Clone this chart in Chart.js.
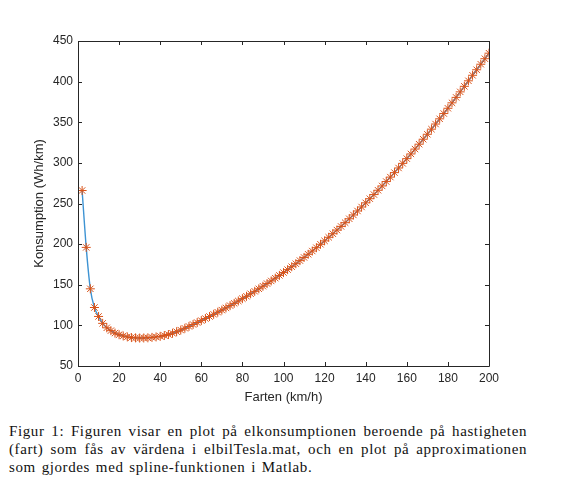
<!DOCTYPE html>
<html>
<head>
<meta charset="utf-8">
<script src="https://cdn.jsdelivr.net/npm/chart.js@4/dist/chart.umd.min.js"></script>
<style>
  html, body { margin: 0; padding: 0; background: #fff; }
  body { width: 585px; height: 504px; position: relative; overflow: hidden; }
  #wrap { position: absolute; left: 0; top: 0; width: 585px; height: 410px; }
  #caption {
    position: absolute; left: 9px; top: 422px; width: 518px;
    font-family: "Liberation Serif", serif; font-size: 15px; line-height: 18px;
    letter-spacing: 0.6px; word-spacing: 1.5px;
    color: #111; white-space: nowrap;
  }
  #caption .j { text-align: justify; text-align-last: justify; white-space: normal; }
</style>
</head>
<body>
<div id="wrap"><canvas id="chart" width="585" height="410"></canvas></div>
<div id="caption">
  <div class="j">Figur 1: Figuren visar en plot på elkonsumptionen beroende på hastigheten</div>
  <div class="j">(fart) som fås av värdena i elbilTesla.mat, och en plot på approximationen</div>
  <div>som gjordes med spline-funktionen i Matlab.</div>
</div>
<script>
// speed (km/h) and consumption (Wh/km)
const speeds = [
  2, 4, 6, 8, 10, 12, 14, 16, 18, 20, 22, 24, 26, 28, 30, 32, 34, 36, 38, 40,
  42, 44, 46, 48, 50, 52, 54, 56, 58, 60, 62, 64, 66, 68, 70, 72, 74, 76, 78, 80,
  82, 84, 86, 88, 90, 92, 94, 96, 98, 100, 102, 104, 106, 108, 110, 112, 114, 116, 118, 120,
  122, 124, 126, 128, 130, 132, 134, 136, 138, 140, 142, 144, 146, 148, 150, 152, 154, 156, 158, 160,
  162, 164, 166, 168, 170, 172, 174, 176, 178, 180, 182, 184, 186, 188, 190, 192, 194, 196, 198, 200
];
const consumption = [
  266, 196, 145, 122, 111, 102.5, 97, 93.5, 90.5, 88.5, 87, 85.8, 85, 84.6, 84.4, 84.5, 84.7, 85.2, 85.8, 86.5,
  87.5, 88.7, 90.3, 92.2, 94.2, 96.4, 98.7, 101.1, 103.5, 105.9, 108.4, 110.9, 113.6, 116.2, 118.8, 121.5, 124.3, 127.1, 130.0, 132.9,
  135.8, 138.9, 141.9, 145.0, 148.2, 151.4, 154.7, 158.1, 161.5, 165.0, 168.6, 172.2, 175.9, 179.7, 183.6, 187.5, 191.5, 195.6, 199.8, 204.0,
  208.4, 212.8, 217.3, 221.8, 226.4, 231.2, 235.9, 240.8, 245.7, 250.8, 255.9, 261.0, 266.3, 271.6, 277.0, 282.5, 288.0, 293.7, 299.4, 305.2,
  311.0, 317.0, 323.0, 329.1, 335.2, 341.5, 347.8, 354.2, 360.7, 367.2, 373.9, 380.6, 387.4, 394.2, 401.0, 407.8, 414.6, 421.4, 428.2, 435.0
];
const xTicks = [0, 20, 40, 60, 80, 100, 120, 140, 160, 180, 200];
const yTicks = [50, 100, 150, 200, 250, 300, 350, 400, 450];

const axisColor = '#262626';
const points = speeds.map((v, i) => ({ x: v, y: consumption[i] }));

// MATLAB-style box with ticks pointing inwards
const boxTicks = {
  id: 'boxTicks',
  afterDatasetsDraw(chart) {
    const { ctx, chartArea: a, scales: { x, y } } = chart;
    const len = 4;
    ctx.save();
    ctx.strokeStyle = axisColor;
    ctx.lineWidth = 1;
    ctx.beginPath();
    ctx.rect(Math.round(a.left) + 0.5, Math.round(a.top) + 0.5,
             Math.round(a.right - a.left), Math.round(a.bottom - a.top));
    xTicks.forEach(t => {
      const px = Math.round(x.getPixelForValue(t)) + 0.5;
      ctx.moveTo(px, a.bottom); ctx.lineTo(px, a.bottom - len);
      ctx.moveTo(px, a.top); ctx.lineTo(px, a.top + len);
    });
    yTicks.forEach(t => {
      const py = Math.round(y.getPixelForValue(t)) + 0.5;
      ctx.moveTo(a.left, py); ctx.lineTo(a.left + len, py);
      ctx.moveTo(a.right, py); ctx.lineTo(a.right - len, py);
    });
    ctx.stroke();
    ctx.restore();
  }
};

new Chart(document.getElementById('chart'), {
  type: 'scatter',
  data: {
    datasets: [
      {
        // spline line
        type: 'line',
        data: points,
        borderColor: '#3d93d3',
        borderWidth: 1.4,
        pointRadius: 0,
        cubicInterpolationMode: 'monotone',
        fill: false,
        order: 2
      },
      {
        // measured values
        data: points,
        pointStyle: 'star',
        pointRadius: 4.5,
        borderColor: '#d95319',
        backgroundColor: '#d95319',
        pointBorderWidth: 1,
        order: 1
      }
    ]
  },
  options: {
    responsive: false,
    animation: false,
    layout: { padding: { top: 41, right: 96, left: 0, bottom: 0 } },
    plugins: { legend: { display: false }, tooltip: { enabled: false } },
    scales: {
      x: {
        type: 'linear', min: 0, max: 200,
        afterBuildTicks: s => { s.ticks = xTicks.map(v => ({ value: v })); },
        afterFit: s => { s.height = 44; },
        grid: { display: false, drawTicks: false },
        border: { display: false },
        ticks: { color: axisColor, padding: 5, maxRotation: 0,
                 font: { family: 'Liberation Sans', size: 12 } },
        title: { display: true, text: 'Farten (km/h)', color: axisColor,
                 padding: { bottom: 5 },
                 font: { family: 'Liberation Sans', size: 13 } }
      },
      y: {
        type: 'linear', min: 50, max: 450,
        afterBuildTicks: s => { s.ticks = yTicks.map(v => ({ value: v })); },
        afterFit: s => { s.width = 78; },
        grid: { display: false, drawTicks: false },
        border: { display: false },
        ticks: { color: axisColor, padding: 5,
                 font: { family: 'Liberation Sans', size: 12 } },
        title: { display: true, text: 'Konsumption (Wh/km)', color: axisColor,
                 padding: { top: 32 },
                 font: { family: 'Liberation Sans', size: 13 } }
      }
    }
  },
  plugins: [boxTicks]
});
</script>
</body>
</html>
